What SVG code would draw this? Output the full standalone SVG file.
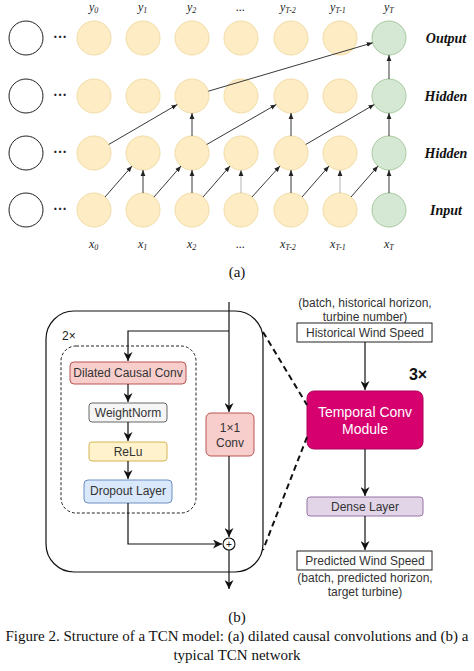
<svg xmlns="http://www.w3.org/2000/svg" width="474" height="671" viewBox="0 0 474 671">
<style>
.yc{fill:#fdecc4;stroke:#f2dca6;stroke-width:1}
.gc{fill:#d5e8d4;stroke:#a8c9a0;stroke-width:1}
.wc{fill:#fff;stroke:#222;stroke-width:1}
.dots{font-family:"Liberation Serif",serif;font-size:14px;font-weight:bold;fill:#222}
.lab{font-family:"Liberation Serif",serif;font-size:12px;font-style:italic;fill:#222}
.sub{font-size:8px}
.row{font-family:"Liberation Serif",serif;font-size:14px;font-style:italic;font-weight:bold;fill:#111}
.ca{stroke:#222;stroke-width:0.9;fill:none}
.cal{stroke:#aaa;stroke-width:0.9;fill:none}
.cb{stroke:#111;stroke-width:1.2;fill:none}
.t{font-family:"Liberation Sans",Arial,sans-serif;font-size:12px;fill:#333;text-anchor:middle}
.cap{font-family:"Liberation Serif",serif;font-size:15px;fill:#111;text-anchor:middle}
</style>
<defs>
<marker id="ah" viewBox="0 0 10 10" refX="10" refY="5" markerWidth="6" markerHeight="6" markerUnits="userSpaceOnUse" orient="auto"><path d="M0,1 L10,5 L0,9 z" fill="#222"/></marker>
<marker id="ahl" viewBox="0 0 10 10" refX="10" refY="5" markerWidth="6" markerHeight="6" markerUnits="userSpaceOnUse" orient="auto"><path d="M0,1 L10,5 L0,9 z" fill="#222"/></marker>
<marker id="bh" viewBox="0 0 10 10" refX="10" refY="5" markerWidth="9" markerHeight="9" markerUnits="userSpaceOnUse" orient="auto"><path d="M0,0 L10,5 L0,10 L3,5 z" fill="#111"/></marker>
</defs>

<!-- Part (a) -->
<g id="a-labels-top">
<text class="lab" x="89" y="11">y<tspan class="sub" dy="2">0</tspan></text>
<text class="lab" x="138" y="11">y<tspan class="sub" dy="2">1</tspan></text>
<text class="lab" x="187" y="11">y<tspan class="sub" dy="2">2</tspan></text>
<text class="lab" x="236" y="11">...</text>
<text class="lab" x="280" y="11">y<tspan class="sub" dy="2">T-2</tspan></text>
<text class="lab" x="330" y="11">y<tspan class="sub" dy="2">T-1</tspan></text>
<text class="lab" x="384" y="11">y<tspan class="sub" dy="2">T</tspan></text>
</g>

<g id="row-output">
<circle class="wc" cx="26" cy="38" r="17"/>
<text class="dots" x="60" y="42" text-anchor="middle">···</text>
<circle class="yc" cx="94" cy="38" r="17"/>
<circle class="yc" cx="143" cy="38" r="17"/>
<circle class="yc" cx="192" cy="38" r="17"/>
<circle class="yc" cx="241" cy="38" r="17"/>
<circle class="yc" cx="291" cy="38" r="17"/>
<circle class="yc" cx="340" cy="38" r="17"/>
<circle class="gc" cx="389" cy="38" r="17"/>
<text class="row" x="446" y="43" text-anchor="middle">Output</text>
</g>
<g id="row-hidden2">
<circle class="wc" cx="26" cy="96" r="17"/>
<text class="dots" x="60" y="100" text-anchor="middle">···</text>
<circle class="yc" cx="94" cy="96" r="17"/>
<circle class="yc" cx="143" cy="96" r="17"/>
<circle class="yc" cx="192" cy="96" r="17"/>
<circle class="yc" cx="241" cy="96" r="17"/>
<circle class="yc" cx="291" cy="96" r="17"/>
<circle class="yc" cx="340" cy="96" r="17"/>
<circle class="gc" cx="389" cy="96" r="17"/>
<text class="row" x="446" y="101" text-anchor="middle">Hidden</text>
</g>
<g id="row-hidden1">
<circle class="wc" cx="26" cy="153" r="17"/>
<text class="dots" x="60" y="157" text-anchor="middle">···</text>
<circle class="yc" cx="94" cy="153" r="17"/>
<circle class="yc" cx="143" cy="153" r="17"/>
<circle class="yc" cx="192" cy="153" r="17"/>
<circle class="yc" cx="241" cy="153" r="17"/>
<circle class="yc" cx="291" cy="153" r="17"/>
<circle class="yc" cx="340" cy="153" r="17"/>
<circle class="gc" cx="389" cy="153" r="17"/>
<text class="row" x="446" y="158" text-anchor="middle">Hidden</text>
</g>
<g id="row-input">
<circle class="wc" cx="26" cy="210" r="17"/>
<text class="dots" x="60" y="214" text-anchor="middle">···</text>
<circle class="yc" cx="94" cy="210" r="17"/>
<circle class="yc" cx="143" cy="210" r="17"/>
<circle class="yc" cx="192" cy="210" r="17"/>
<circle class="yc" cx="241" cy="210" r="17"/>
<circle class="yc" cx="291" cy="210" r="17"/>
<circle class="yc" cx="340" cy="210" r="17"/>
<circle class="gc" cx="389" cy="210" r="17"/>
<text class="row" x="446" y="215" text-anchor="middle">Input</text>
</g>

<g id="a-labels-bottom">
<text class="lab" x="89" y="248">x<tspan class="sub" dy="2">0</tspan></text>
<text class="lab" x="138" y="248">x<tspan class="sub" dy="2">1</tspan></text>
<text class="lab" x="187" y="248">x<tspan class="sub" dy="2">2</tspan></text>
<text class="lab" x="236" y="248">...</text>
<text class="lab" x="280" y="248">x<tspan class="sub" dy="2">T-2</tspan></text>
<text class="lab" x="330" y="248">x<tspan class="sub" dy="2">T-1</tspan></text>
<text class="lab" x="384" y="248">x<tspan class="sub" dy="2">T</tspan></text>
<text class="cap" x="237" y="277">(a)</text>
</g>

<g id="a-connectors">
<line class="ca" x1="105" y1="197" x2="132" y2="166" marker-end="url(#ah)"/>
<line class="ca" x1="154" y1="197" x2="181" y2="166" marker-end="url(#ah)"/>
<line class="ca" x1="203" y1="197" x2="230" y2="166" marker-end="url(#ah)"/>
<line class="ca" x1="252" y1="197" x2="280" y2="166" marker-end="url(#ah)"/>
<line class="ca" x1="302" y1="197" x2="329" y2="166" marker-end="url(#ah)"/>
<line class="ca" x1="351" y1="197" x2="378" y2="166" marker-end="url(#ah)"/>
<line class="ca" x1="143" y1="193" x2="143" y2="170" marker-end="url(#ah)"/>
<line class="ca" x1="192" y1="193" x2="192" y2="170" marker-end="url(#ah)"/>
<line class="cal" x1="241" y1="193" x2="241" y2="170" marker-end="url(#ahl)"/>
<line class="ca" x1="291" y1="193" x2="291" y2="170" marker-end="url(#ah)"/>
<line class="cal" x1="340" y1="193" x2="340" y2="170" marker-end="url(#ahl)"/>
<line class="ca" x1="389" y1="193" x2="389" y2="170" marker-end="url(#ah)"/>
<line class="ca" x1="108.7" y1="144.5" x2="177.3" y2="104.5" marker-end="url(#ah)"/>
<line class="ca" x1="206.7" y1="144.5" x2="276.3" y2="104.5" marker-end="url(#ah)"/>
<line class="ca" x1="305.7" y1="144.5" x2="374.3" y2="104.5" marker-end="url(#ah)"/>
<line class="ca" x1="192" y1="136" x2="192" y2="113" marker-end="url(#ah)"/>
<line class="ca" x1="291" y1="136" x2="291" y2="113" marker-end="url(#ah)"/>
<line class="ca" x1="389" y1="136" x2="389" y2="113" marker-end="url(#ah)"/>
<line class="ca" x1="208.3" y1="91.2" x2="372.7" y2="42.8" marker-end="url(#ah)"/>
<line class="ca" x1="389" y1="79" x2="389" y2="55" marker-end="url(#ah)"/>
</g>

<!-- Part (b) -->
<g id="tcn-block">
<rect x="46" y="311" width="217" height="261" rx="28" fill="none" stroke="#111" stroke-width="1.2"/>
<text x="62" y="340" font-family="Liberation Sans,Arial,sans-serif" font-size="12" fill="#222">2×</text>
<rect x="61" y="346" width="135" height="167" rx="15" fill="none" stroke="#222" stroke-width="1" stroke-dasharray="3 2"/>
</g>
<g id="dilated">
<rect x="70" y="362" width="116" height="22" rx="4" fill="#f8cecc" stroke="#b85450"/>
<text class="t" x="128" y="377">Dilated Causal Conv</text>
</g>
<g id="weightnorm">
<rect x="89" y="403" width="78" height="19" rx="3" fill="#f5f5f5" stroke="#666"/>
<text class="t" x="128" y="417">WeightNorm</text>
</g>
<g id="relu">
<rect x="89" y="442" width="78" height="19" rx="3" fill="#fff2cc" stroke="#d6b656"/>
<text class="t" x="128" y="456">ReLu</text>
</g>
<g id="dropout">
<rect x="84" y="480" width="88" height="23" rx="4" fill="#dae8fc" stroke="#6c8ebf"/>
<text class="t" x="128" y="495">Dropout Layer</text>
</g>
<g id="conv1x1">
<rect x="206" y="413" width="48" height="43" rx="5" fill="#f8cecc" stroke="#b85450"/>
<text class="t" x="230" y="432">1×1</text>
<text class="t" x="230" y="447">Conv</text>
</g>
<g id="plus">
<circle cx="229" cy="544" r="6" fill="#fff" stroke="#111" stroke-width="1.1"/>
<text x="229" y="548" text-anchor="middle" font-family="Liberation Sans,Arial,sans-serif" font-size="10" fill="#111">+</text>
</g>

<g id="hist-input">
<text class="t" x="365" y="307" font-size="11">(batch, historical horizon,</text>
<text class="t" x="365" y="321" font-size="11">turbine number)</text>
<rect x="297" y="323" width="135" height="19" fill="#fff" stroke="#222"/>
<text class="t" x="365" y="337">Historical Wind Speed</text>
</g>
<g id="temporal">
<text x="418" y="380" text-anchor="middle" font-family="Liberation Sans,Arial,sans-serif" font-size="16" font-weight="bold" fill="#111">3×</text>
<rect x="307" y="391" width="116" height="58" rx="7" fill="#d6006f" stroke="#b0005a"/>
<text x="365" y="417" text-anchor="middle" font-family="Liberation Sans,Arial,sans-serif" font-size="14" fill="#fff">Temporal Conv</text>
<text x="365" y="434" text-anchor="middle" font-family="Liberation Sans,Arial,sans-serif" font-size="14" fill="#fff">Module</text>
</g>
<g id="dense">
<rect x="307" y="497" width="116" height="19" rx="3" fill="#e1d5e7" stroke="#9673a6"/>
<text class="t" x="365" y="511">Dense Layer</text>
</g>
<g id="predicted">
<rect x="297" y="551" width="135" height="19" fill="#fff" stroke="#222"/>
<text class="t" x="365" y="565">Predicted Wind Speed</text>
<text class="t" x="365" y="582" font-size="11">(batch, predicted horizon,</text>
<text class="t" x="365" y="596" font-size="11">target turbine)</text>
</g>

<g id="b-connectors">
<line class="cb" x1="229" y1="302" x2="229" y2="412" marker-end="url(#bh)"/>
<polyline class="cb" points="229,331 128,331 128,361" marker-end="url(#bh)"/>
<line class="cb" x1="128" y1="384" x2="128" y2="402" marker-end="url(#bh)"/>
<line class="cb" x1="128" y1="422" x2="128" y2="441" marker-end="url(#bh)"/>
<line class="cb" x1="128" y1="461" x2="128" y2="479" marker-end="url(#bh)"/>
<polyline class="cb" points="128,503 128,544 222,544" marker-end="url(#bh)"/>
<line class="cb" x1="229" y1="456" x2="229" y2="537" marker-end="url(#bh)"/>
<line class="cb" x1="229" y1="550" x2="229" y2="589" marker-end="url(#bh)"/>
<line class="cb" x1="365" y1="342" x2="365" y2="390" marker-end="url(#bh)"/>
<line class="cb" x1="365" y1="449" x2="365" y2="496" marker-end="url(#bh)"/>
<line class="cb" x1="365" y1="516" x2="365" y2="550" marker-end="url(#bh)"/>
<line x1="263" y1="332" x2="307" y2="405" stroke="#111" stroke-width="2" stroke-dasharray="6 4"/>
<line x1="307" y1="437" x2="263" y2="550" stroke="#111" stroke-width="2" stroke-dasharray="6 4"/>
</g>

<g id="caption">
<text class="cap" x="237" y="622">(b)</text>
<text class="cap" x="237" y="641">Figure 2. Structure of a TCN model: (a) dilated causal convolutions and (b) a</text>
<text class="cap" x="237" y="660">typical TCN network</text>
</g>
</svg>
